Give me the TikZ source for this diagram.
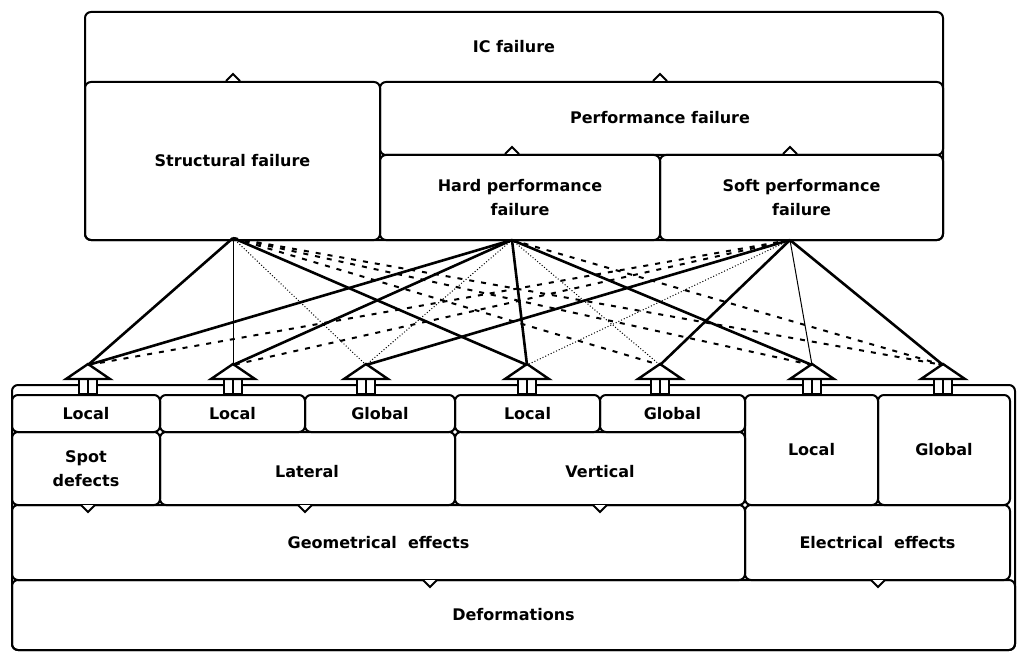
\documentclass[tikz,border=0pt]{standalone}
\usepackage{fontspec}
\setmainfont{DejaVu Sans}
\begin{document}
\begin{tikzpicture}[x=1pt,y=-1pt,
  bx/.style={draw,line width=2pt,rounded corners=6pt},
  lbl/.style={font=\bfseries\fontsize{16}{24}\selectfont,align=center},
  thk/.style={line width=2.6pt},
  thn/.style={line width=1pt},
  dot/.style={line width=1pt,dotted},
  dsh/.style={line width=2pt,dash pattern=on 5pt off 7pt}]
\useasboundingbox (0,0) rectangle (1036,666);
\newcommand\bxx[6]{\draw[bx] (#1,#2) rectangle (#3,#4);
  \node[lbl] (#5) at ({(#1+#3)/2},{(#2+#4)/2}) {#6};}
\newcommand\upn[2]{\draw[line width=2pt,fill=white] (#1-7,#2+1)--(#1,#2-6)--(#1+7,#2+1);}
\newcommand\dnn[2]{\draw[line width=2pt,fill=white] (#1-7,#2-1)--(#1,#2+6)--(#1+7,#2-1);}
% top
\bxx{85}{12}{943}{240}{ic}{}
\node[lbl] at (514,47) {IC failure};
\bxx{85}{82}{380}{240}{sf}{Structural failure}
\bxx{380}{82}{943}{155}{pf}{}
\node[lbl] at (660,118) {Performance failure};
\bxx{380}{155}{660}{240}{hp}{Hard performance\\failure}
\bxx{660}{155}{943}{240}{sp}{Soft performance\\failure}
\upn{233}{80}\upn{660}{80}\upn{512}{153}\upn{790}{153}
\coordinate (S) at (233,238);\coordinate (H) at (512,240);\coordinate (P) at (790,240);
% bottom
\bxx{12}{385}{1015}{650}{out}{}
\bxx{12}{580}{1015}{650}{def}{Deformations}
\bxx{12}{505}{745}{580}{geo}{Geometrical\ \ effects}
\bxx{745}{505}{1010}{580}{ele}{Electrical\ \ effects}
\bxx{12}{432}{160}{505}{spot}{Spot\\defects}
\bxx{160}{432}{455}{505}{lat}{}
\node[lbl] at (307,472) {Lateral};
\bxx{455}{432}{745}{505}{ver}{}
\node[lbl] at (600,472) {Vertical};
\bxx{12}{395}{160}{432}{a1}{Local}
\bxx{160}{395}{305}{432}{a2}{Local}
\bxx{305}{395}{455}{432}{a3}{Global}
\bxx{455}{395}{600}{432}{a4}{Local}
\bxx{600}{395}{745}{432}{a5}{Global}
\bxx{745}{395}{878}{505}{a6}{Local}
\bxx{878}{395}{1010}{505}{a7}{Global}
\dnn{88}{506}\dnn{305}{506}\dnn{600}{506}\dnn{430}{581}\dnn{878}{581}
\foreach \i/\x in {1/88,2/233,3/366,4/527,5/660,6/812,7/943}{
  \coordinate (b\i) at (\x,365);
  \draw[line width=2pt,fill=white] (\x-9,378) rectangle (\x+9,394);
  \draw[line width=1.5pt] (\x,378)--(\x,394);
  \draw[line width=2.4pt,fill=white] (\x-22,379)--(\x,364)--(\x+22,379)--cycle;}
% connectors
\draw[thk] (S)--(b1); \draw[thn] (S)--(b2); \draw[dot] (S)--(b3); \draw[thk] (S)--(b4);
\draw[dsh] (S)--(b5); \draw[dsh] (S)--(b6); \draw[dsh] (S)--(b7);
\draw[thk] (H)--(b1); \draw[thk] (H)--(b2); \draw[dot] (H)--(b3); \draw[thk] (H)--(b4);
\draw[dot] (H)--(b5); \draw[thk] (H)--(b6); \draw[dsh] (H)--(b7);
\draw[dsh] (P)--(b1); \draw[dsh] (P)--(b2); \draw[thk] (P)--(b3); \draw[dot] (P)--(b4);
\draw[thk] (P)--(b5); \draw[thn] (P)--(b6); \draw[thk] (P)--(b7);
\end{tikzpicture}
\end{document}
